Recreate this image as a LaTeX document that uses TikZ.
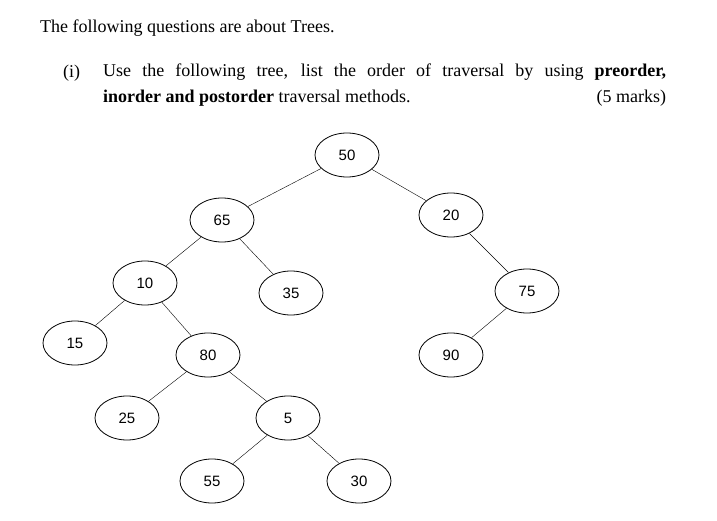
\documentclass[tikz,border=0pt]{standalone}
\usepackage{fontspec}
\setmainfont{Liberation Serif}
\newfontfamily\nodefont{Liberation Sans}
\usetikzlibrary{shapes.geometric}
\begin{document}
\begin{tikzpicture}[x=1pt,y=-1pt,
  tn/.style={ellipse,draw,line width=0.8pt,minimum width=64pt,minimum height=44pt,inner sep=0pt,font=\nodefont\fontsize{15}{15}\selectfont},
  ed/.style={line width=0.4pt}]
\useasboundingbox (0,0) rectangle (717,521);
\node[anchor=base west,inner sep=0pt,font=\fontsize{18}{20}\selectfont] (t1) at (40,33) {The following questions are about Trees.};
\node[anchor=base west,inner sep=0pt,font=\fontsize{18}{20}\selectfont] (t2) at (63,78) {(i)};
\node[anchor=north west,inner sep=0pt,font=\fontsize{18}{26}\selectfont] (t3) at (103,58)
  {\parbox{563pt}{\strut Use the following tree, list the order of traversal by using \textbf{preorder,}\linebreak \textbf{inorder and postorder} traversal methods.\hfill(5 marks)}};
\node[tn] (n50) at (347,155) {50};
\node[tn] (n65) at (222,220) {65};
\node[tn] (n20) at (451,215) {20};
\node[tn] (n10) at (145,283) {10};
\node[tn] (n35) at (291,293) {35};
\node[tn] (n75) at (527,291) {75};
\node[tn] (n15) at (75,343) {15};
\node[tn] (n80) at (208,355) {80};
\node[tn] (n90) at (451,355) {90};
\node[tn] (n25) at (127,418) {25};
\node[tn] (n5) at (288,418) {5};
\node[tn] (n55) at (212,481) {55};
\node[tn] (n30) at (359,481) {30};
\draw[ed] (n50)--(n65); \draw[ed] (n50)--(n20);
\draw[ed] (n65)--(n10); \draw[ed] (n65)--(n35);
\draw[ed] (n20)--(n75); \draw[ed] (n75)--(n90);
\draw[ed] (n10)--(n15); \draw[ed] (n10)--(n80);
\draw[ed] (n80)--(n25); \draw[ed] (n80)--(n5);
\draw[ed] (n5)--(n55); \draw[ed] (n5)--(n30);
\end{tikzpicture}
\end{document}
